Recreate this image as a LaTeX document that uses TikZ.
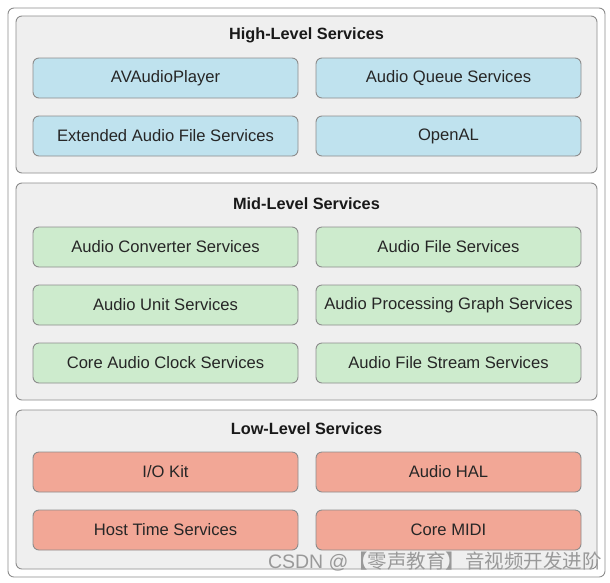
\documentclass[tikz,border=0pt]{standalone}
\usepackage{fontspec}
\setmainfont{Liberation Sans}
\newfontfamily\cjk{Noto Sans CJK SC}
\definecolor{hi}{HTML}{BFE2EE}
\definecolor{mid}{HTML}{CDEBCD}
\definecolor{low}{HTML}{F2A796}
\definecolor{pan}{HTML}{EFEFEF}
\definecolor{bd}{HTML}{8C8C8C}
\tikzset{
 panel/.style={draw=bd,fill=pan,rounded corners=6pt,line width=0.9pt},
 box/.style={draw=bd,rounded corners=6pt,line width=0.9pt,minimum width=265pt,minimum height=40pt,font=\fontsize{16.6}{19}\selectfont,text=black!85},
 ttl/.style={font=\bfseries\fontsize{16.3}{19}\selectfont,text=black!90}
}
\begin{document}
\begin{tikzpicture}[x=1pt,y=-1pt]
\useasboundingbox (0,0) rectangle (610,582);
\draw[draw=bd,fill=white,rounded corners=6pt,line width=0.9pt] (8,8) rectangle (605,577);
\draw[panel] (16,16) rectangle (597,173);
\draw[panel] (16,183) rectangle (597,400);
\draw[panel] (16,410) rectangle (597,569);
\node[ttl] (th) at (306.5,35) {High-Level Services};
\node[ttl] (tm) at (306.5,204) {Mid-Level Services};
\node[ttl] (tl) at (306.5,429) {Low-Level Services};
\node[box,fill=hi] (a1) at (165.5,78) {AVAudioPlayer};
\node[box,fill=hi] (a2) at (448.5,78) {Audio Queue Services};
\node[box,fill=hi] (a3) at (165.5,136) {Extended Audio File Services};
\node[box,fill=hi] (a4) at (448.5,136) {OpenAL};
\node[box,fill=mid] (b1) at (165.5,247) {Audio Converter Services};
\node[box,fill=mid] (b2) at (448.5,247) {Audio File Services};
\node[box,fill=mid] (b3) at (165.5,305) {Audio Unit Services};
\node[box,fill=mid] (b4) at (448.5,305) {Audio Processing Graph Services};
\node[box,fill=mid] (b5) at (165.5,363) {Core Audio Clock Services};
\node[box,fill=mid] (b6) at (448.5,363) {Audio File Stream Services};
\node[box,fill=low] (c1) at (165.5,472) {I/O Kit};
\node[box,fill=low] (c2) at (448.5,472) {Audio HAL};
\node[box,fill=low] (c3) at (165.5,530) {Host Time Services};
\node[box,fill=low] (c4) at (448.5,530) {Core MIDI};
\node[font=\fontsize{19.5}{22}\selectfont,text=black!40] (wm) at (435,562) {CSDN @{\cjk【零声教育】音视频开发进阶}};
\end{tikzpicture}
\end{document}
